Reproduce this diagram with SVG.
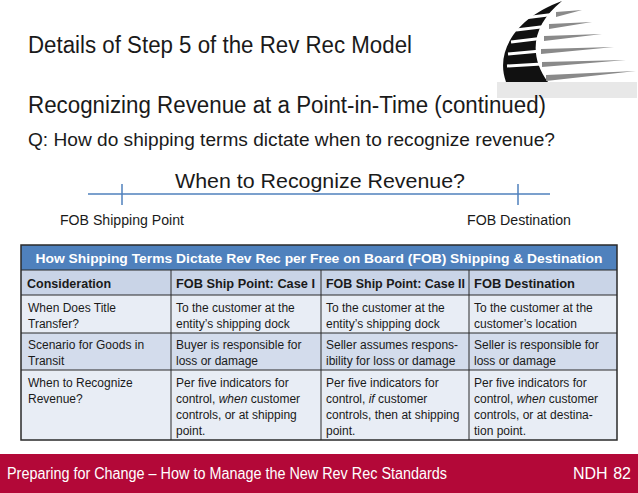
<svg xmlns="http://www.w3.org/2000/svg" width="638" height="493" viewBox="0 0 638 493">
<style>
text{font-family:"Liberation Sans",Arial,sans-serif;fill:#1a1a1a}
.t{font-size:12px}
.h{font-size:12.5px;font-weight:bold}
.grid{stroke:#2a2a2a;stroke-width:1;fill:none}
</style>
<rect width="638" height="493" fill="#fff"/>
<g id="logo">
<path d="M562,1 C515,18 495,52 506,82 L548,82 C528,55 532,25 562,1 Z" fill="#111"/>
<g stroke="#fff" stroke-width="3">
<line x1="524" y1="18" x2="556" y2="14"/><line x1="516" y1="30" x2="549" y2="26"/><line x1="511" y1="42" x2="544" y2="38"/><line x1="508" y1="54" x2="541" y2="51"/><line x1="507" y1="66" x2="542" y2="64"/>
</g>
<g fill="#8a8a8a">
<path d="M556,12 L582,10 L556,17 Z"/><path d="M549,24 L592,22 L549,29 Z"/><path d="M544,36 L602,34 L544,41 Z"/><path d="M541,49 L614,47 L541,54 Z"/><path d="M542,62 L626,60 L542,67 Z"/><path d="M546,75 L636,71 L546,81 Z"/>
</g>
<rect x="497" y="82" width="140" height="16" fill="#d9d9d9" opacity="0.6"/>
</g>
<g id="titles">
<text x="28" y="53" font-size="23" textLength="384" lengthAdjust="spacingAndGlyphs">Details of Step 5 of the Rev Rec Model</text>
<text x="28" y="113" font-size="23" textLength="518" lengthAdjust="spacingAndGlyphs">Recognizing Revenue at a Point-in-Time (continued)</text>
<text x="28" y="146" font-size="17.5" textLength="527" lengthAdjust="spacingAndGlyphs">Q: How do shipping terms dictate when to recognize revenue?</text>
</g>
<g id="timeline">
<text x="320" y="188" font-size="21" text-anchor="middle" textLength="290" lengthAdjust="spacingAndGlyphs">When to Recognize Revenue?</text>
<line x1="88" y1="194" x2="550" y2="194" stroke="#4f81bd" stroke-width="1.5"/>
<line x1="122" y1="184" x2="122" y2="205" stroke="#4f81bd" stroke-width="1.5"/>
<line x1="518" y1="184" x2="518" y2="205" stroke="#4f81bd" stroke-width="1.5"/>
<text x="60" y="225" font-size="14" textLength="124" lengthAdjust="spacingAndGlyphs">FOB Shipping Point</text>
<text x="467" y="225" font-size="14" textLength="104" lengthAdjust="spacingAndGlyphs">FOB Destination</text>
</g>
<g id="table">
<rect x="21" y="245" width="596" height="25" fill="#4f81bd"/>
<rect x="21" y="270" width="596" height="25" fill="#c9d4e7"/>
<rect x="21" y="295" width="596" height="38" fill="#e8edf5"/>
<rect x="21" y="333" width="596" height="37" fill="#d3dcec"/>
<rect x="21" y="370" width="596" height="70" fill="#e8edf5"/>
<text x="319" y="263" font-size="13" font-weight="bold" text-anchor="middle" style="fill:#fff" textLength="567" lengthAdjust="spacingAndGlyphs">How Shipping Terms Dictate Rev Rec per Free on Board (FOB) Shipping &amp; Destination</text>
<g class="grid">
<rect x="21" y="245" width="596" height="195" stroke-width="1.5"/>
<line x1="21" y1="270" x2="617" y2="270"/><line x1="21" y1="295" x2="617" y2="295"/><line x1="21" y1="333" x2="617" y2="333"/><line x1="21" y1="370" x2="617" y2="370"/>
<line x1="171" y1="270" x2="171" y2="440"/><line x1="321" y1="270" x2="321" y2="440"/><line x1="469" y1="270" x2="469" y2="440"/>
</g>
<text class="h" x="27" y="288">Consideration</text>
<text class="h" x="176" y="288" textLength="139" lengthAdjust="spacingAndGlyphs">FOB Ship Point: Case I</text>
<text class="h" x="326" y="288" textLength="139" lengthAdjust="spacingAndGlyphs">FOB Ship Point: Case II</text>
<text class="h" x="474" y="288" textLength="101" lengthAdjust="spacingAndGlyphs">FOB Destination</text>
<g class="t">
<text x="28" y="312">When Does Title</text><text x="28" y="328">Transfer?</text>
<text x="176" y="312">To the customer at the</text><text x="176" y="328">entity’s shipping dock</text>
<text x="326" y="312">To the customer at the</text><text x="326" y="328">entity’s shipping dock</text>
<text x="474" y="312">To the customer at the</text><text x="474" y="328">customer’s location</text>
<text x="28" y="349">Scenario for Goods in</text><text x="28" y="365">Transit</text>
<text x="176" y="349">Buyer is responsible for</text><text x="176" y="365">loss or damage</text>
<text x="326" y="349">Seller assumes respons-</text><text x="326" y="365">ibility for loss or damage</text>
<text x="474" y="349">Seller is responsible for</text><text x="474" y="365">loss or damage</text>
<text x="28" y="387">When to Recognize</text><text x="28" y="403">Revenue?</text>
<text x="176" y="387">Per five indicators for</text><text x="176" y="403">control, <tspan font-style="italic">when</tspan> customer</text><text x="176" y="419">controls, or at shipping</text><text x="176" y="435">point.</text>
<text x="326" y="387">Per five indicators for</text><text x="326" y="403">control, <tspan font-style="italic">if</tspan> customer</text><text x="326" y="419">controls, then at shipping</text><text x="326" y="435">point.</text>
<text x="474" y="387">Per five indicators for</text><text x="474" y="403">control, <tspan font-style="italic">when</tspan> customer</text><text x="474" y="419">controls, or at destina-</text><text x="474" y="435">tion point.</text>
</g>
</g>
<g id="footer">
<rect x="0" y="454" width="638" height="39" fill="#b30838"/>
<text x="7" y="479" font-size="16" style="fill:#fff" textLength="440" lengthAdjust="spacingAndGlyphs">Preparing for Change – How to Manage the New Rev Rec Standards</text>
<text x="573" y="479" font-size="16" style="fill:#fff">NDH</text>
<text x="631" y="479" font-size="16" text-anchor="end" style="fill:#fff">82</text>
</g>
</svg>
